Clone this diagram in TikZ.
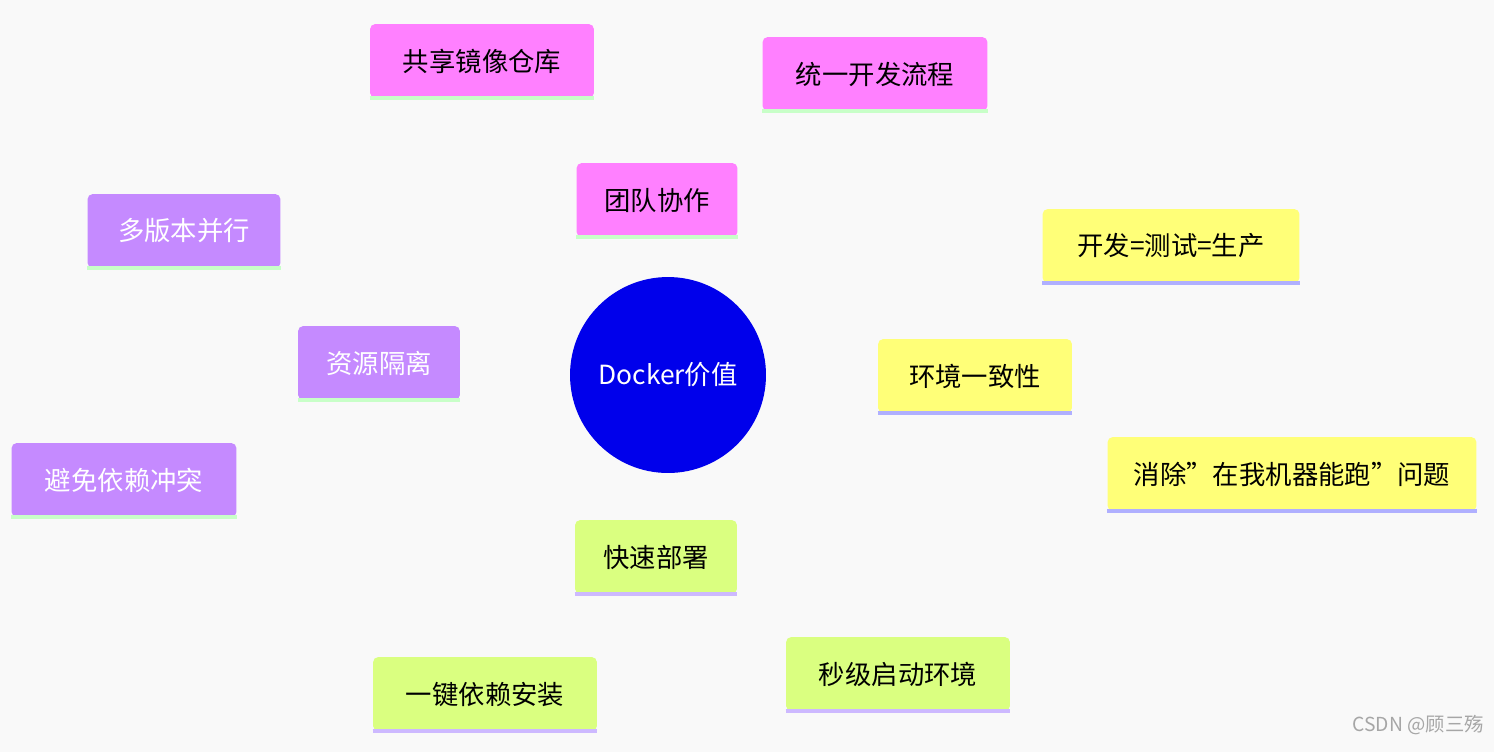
\documentclass[tikz,border=0pt]{standalone}
\usepackage{fontspec}
\setmainfont{Noto Sans CJK SC}
\usetikzlibrary{positioning, backgrounds}
\definecolor{BgColor}{RGB}{249,249,249}
\definecolor{TeamColor}{RGB}{255,128,255}
\definecolor{EnvColor}{RGB}{255,255,120}
\definecolor{DeployColor}{RGB}{218,255,128}
\definecolor{IsoColor}{RGB}{197,138,255}
\definecolor{GreenStrip}{RGB}{200,255,200}
\definecolor{BlueStrip}{RGB}{176,176,255}
\definecolor{LilacStrip}{RGB}{205,185,255}
\definecolor{CoreColor}{RGB}{0,0,235}
\tikzset{
  topic/.style={rectangle, rounded corners=3pt, minimum height=1.48cm, inner xsep=0.4cm,
    font=\fontsize{15}{18}\selectfont},
  core/.style={circle, fill=CoreColor, minimum size=3.92cm, text=white,
    font=\fontsize{15}{18}\selectfont},
  branch/.style={line width=0.4cm},
  twig/.style={line width=0.3cm},
  strip/.style={line width=0.08cm}
}
\begin{document}
\begin{tikzpicture}[x=0.02cm, y=-0.02cm]
  \fill[BgColor] (0,0) rectangle (1494,752);
  \useasboundingbox (0,0) rectangle (1494,752);

  % centre
  \node[core] (docker) at (668,375) {Docker价值};

  % team branch
  \node[topic, fill=TeamColor, minimum width=3.22cm] (team) at (657,200) {团队协作};
  \node[topic, fill=TeamColor, minimum width=4.48cm] (repo) at (482,61) {共享镜像仓库};
  \node[topic, fill=TeamColor, minimum width=4.5cm] (flow) at (875,74) {统一开发流程};

  % environment branch
  \node[topic, fill=EnvColor, minimum width=3.88cm] (env) at (975,376) {环境一致性};
  \node[topic, fill=EnvColor, minimum width=5.14cm] (same) at (1171,246) {开发=测试=生产};
  \node[topic, fill=EnvColor, minimum width=7.38cm] (works) at (1292,474) {消除"在我机器能跑"问题};

  % deploy branch
  \node[topic, fill=DeployColor, minimum width=3.24cm] (deploy) at (656,557) {快速部署};
  \node[topic, fill=DeployColor, minimum width=4.48cm] (install) at (485,694) {一键依赖安装};
  \node[topic, fill=DeployColor, minimum width=4.48cm] (boot) at (898,674) {秒级启动环境};

  % isolation branch
  \node[topic, fill=IsoColor, text=white, minimum width=3.24cm] (iso) at (379,363) {资源隔离};
  \node[topic, fill=IsoColor, text=white, minimum width=3.86cm] (multi) at (184,231) {多版本并行};
  \node[topic, fill=IsoColor, text=white, minimum width=4.5cm] (clash) at (124,480) {避免依赖冲突};

  % strips
  \foreach \n/\c in {team/GreenStrip, repo/GreenStrip, flow/GreenStrip,
      env/BlueStrip, same/BlueStrip, works/BlueStrip,
      deploy/LilacStrip, install/LilacStrip, boot/LilacStrip,
      iso/GreenStrip, multi/GreenStrip, clash/GreenStrip}
    \draw[strip, \c] (\n.south west) -- (\n.south east);

  % connectors
  \begin{scope}[on background layer]
    \fill[BgColor] (0,0) rectangle (1494,752);
    \draw[branch, TeamColor] (docker) -- (team);
    \draw[twig, TeamColor] (team) -- (repo);
    \draw[twig, TeamColor] (team) -- (flow);
    \draw[branch, EnvColor] (docker) -- (env);
    \draw[twig, EnvColor] (env) -- (same);
    \draw[twig, EnvColor] (env) -- (works);
    \draw[branch, DeployColor] (docker) -- (deploy);
    \draw[twig, DeployColor] (deploy) -- (install);
    \draw[twig, DeployColor] (deploy) -- (boot);
    \draw[branch, IsoColor] (docker) -- (iso);
    \draw[twig, IsoColor] (iso) -- (multi);
    \draw[twig, IsoColor] (iso) -- (clash);
  \end{scope}

  \node[text=gray!70, font=\fontsize{11}{13}\selectfont, anchor=east] (mark) at (1490,725) {CSDN @顾三殇};
\end{tikzpicture}
\end{document}
